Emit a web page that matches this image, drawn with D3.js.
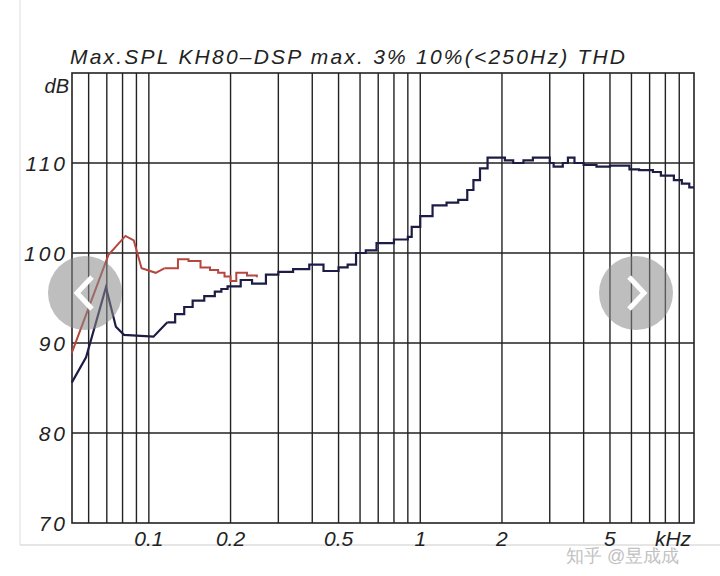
<!DOCTYPE html>
<html><head><meta charset="utf-8">
<script src="https://cdn.jsdelivr.net/npm/d3@7"></script>
<style>body{margin:0;background:#fff}text{font-family:"Liberation Sans",Arial,sans-serif}</style>
</head><body>
<script>
const w = 720, h = 576;
const plotLeft = 72, plotRight = 694, plotTop = 73, plotBottom = 523;

const dbTicks = [70, 80, 90, 100, 110];
const freqLabels = [0.1, 0.2, 0.5, 1, 2, 5];
const gridFreqs = [0.06,0.07,0.08,0.09,0.1,0.2,0.3,0.4,0.5,0.6,0.7,0.8,0.9,1,2,3,4,5,6,7,8,9];

// 3% THD curve (dark): sloped low end, then stepped (level starts at freq)
const blueRampF = [0.052, 0.0587, 0.0695, 0.0756, 0.081, 0.104, 0.117];
const blueRampDb = [85.6, 88.4, 96.2, 91.8, 90.9, 90.7, 92.3];
const blueStepF = [0.117,0.125,0.135,0.145,0.16,0.175,0.185,0.195,0.218,0.24,0.27,0.3,0.34,0.39,0.44,0.5,0.54,0.58,0.63,0.69,0.8,0.9,0.93,1.0,1.11,1.25,1.38,1.49,1.57,1.66,1.77,2.05,2.2,2.4,2.6,3.0,3.1,3.35,3.5,3.7,4.0,4.46,5.0,5.9,6.4,7.2,7.7,8.6,9.2,9.8,10.2];
const blueStepDb = [92.3,93.2,94.0,94.7,95.2,95.7,96.0,96.3,97.0,96.6,97.6,97.9,98.2,98.7,98.0,98.4,98.7,100.0,100.3,101.1,101.5,101.8,102.9,104.1,105.3,105.6,105.9,107.0,108.1,109.4,110.6,110.3,110.0,110.3,110.6,110.0,109.6,110.0,110.6,110.0,109.8,109.6,109.7,109.3,109.2,109.0,108.6,108.1,107.7,107.3,107.3];

// 10% THD below 250 Hz (red)
const redRampF = [0.052, 0.071, 0.082, 0.088, 0.094, 0.106, 0.114];
const redRampDb = [88.9, 99.8, 101.9, 101.4, 98.3, 97.8, 98.3];
const redStepF = [0.114,0.128,0.14,0.155,0.168,0.18,0.19,0.2,0.21,0.23,0.25];
const redStepDb = [98.3,99.3,99.1,98.4,98.1,97.8,97.4,96.9,97.8,97.5,97.3];

const x = d3.scaleLog().domain([0.0521, 10.2]).range([plotLeft, plotRight]);
const y = d3.scaleLinear().domain([70, 120]).range([plotBottom, plotTop]);

const svg = d3.select("body").append("svg").attr("width", w).attr("height", h);

// page frame lines
svg.append("line").attr("x1", 20).attr("x2", 20).attr("y1", 0).attr("y2", 545).attr("stroke", "#ddd");
svg.append("line").attr("x1", 20).attr("x2", w).attr("y1", 545).attr("y2", 545).attr("stroke", "#ccc");

const grid = svg.append("g").attr("stroke", "#222").attr("stroke-width", 1.4);
grid.selectAll(".v").data(gridFreqs).enter().append("line")
  .attr("x1", d => x(d)).attr("x2", d => x(d)).attr("y1", plotTop).attr("y2", plotBottom);
grid.selectAll(".h").data(dbTicks.slice(1)).enter().append("line")
  .attr("x1", plotLeft).attr("x2", plotRight).attr("y1", d => y(d)).attr("y2", d => y(d));
svg.append("rect").attr("x", plotLeft).attr("y", plotTop).attr("width", plotRight - plotLeft).attr("height", plotBottom - plotTop)
  .attr("fill", "none").attr("stroke", "#222").attr("stroke-width", 1.6);

svg.selectAll(".yl").data(dbTicks).enter().append("text")
  .attr("x", plotLeft - 4).attr("y", d => y(d) + 8).attr("text-anchor", "end")
  .attr("font-size", 21).attr("font-style", "italic").attr("fill", "#222")
  .attr("letter-spacing", 3).text(d => d);
svg.append("text").attr("x", plotLeft - 3).attr("y", 93).attr("text-anchor", "end")
  .attr("font-size", 20).attr("font-style", "italic").attr("fill", "#222").text("dB");

svg.selectAll(".xl").data(freqLabels).enter().append("text")
  .attr("x", d => x(d)).attr("y", 546).attr("text-anchor", "middle")
  .attr("font-size", 21).attr("font-style", "italic").attr("fill", "#222").text(d => d);
svg.append("text").attr("x", 673).attr("y", 546).attr("text-anchor", "middle")
  .attr("font-size", 21).attr("font-style", "italic").attr("fill", "#222").text("kHz");

svg.append("text").attr("x", 70).attr("y", 64)
  .attr("font-size", 21).attr("font-style", "italic").attr("fill", "#222")
  .attr("textLength", 555).attr("lengthAdjust", "spacing")
  .text("Max.SPL KH80\u2013DSP max. 3% 10%(<250Hz) THD");

const ramp = d3.line().x(d => x(d[0])).y(d => y(d[1]));
const steps = d3.line().x(d => x(d[0])).y(d => y(d[1])).curve(d3.curveStepAfter);
const zip = (a, b) => a.map((f, i) => [f, b[i]]);

function drawCurve(rf, rd, sf, sd, color, width) {
  svg.append("path").datum(zip(rf, rd)).attr("d", ramp)
    .attr("fill", "none").attr("stroke", color).attr("stroke-width", width);
  svg.append("path").datum(zip(sf, sd)).attr("d", steps)
    .attr("fill", "none").attr("stroke", color).attr("stroke-width", width);
}
drawCurve(redRampF, redRampDb, redStepF, redStepDb, "#b5473f", 2);
drawCurve(blueRampF, blueRampDb, blueStepF, blueStepDb, "#1c1c45", 2.2);

// overlay nav buttons
[[85, 293, "M92,277 L77,293 L92,309"], [636, 293, "M629,277 L644,293 L629,309"]].forEach(b => {
  svg.append("circle").attr("cx", b[0]).attr("cy", b[1]).attr("r", 37).attr("fill", "#888").attr("opacity", 0.55);
  svg.append("path").attr("d", b[2]).attr("fill", "none").attr("stroke", "#fff").attr("stroke-width", 5);
});

svg.append("text").attr("x", 566).attr("y", 562).attr("font-size", 18)
  .attr("font-family", "Noto Sans CJK SC").attr("fill", "#bbb").attr("opacity", 0.9).text("知乎 @昱成成");
</script>
</body></html>
